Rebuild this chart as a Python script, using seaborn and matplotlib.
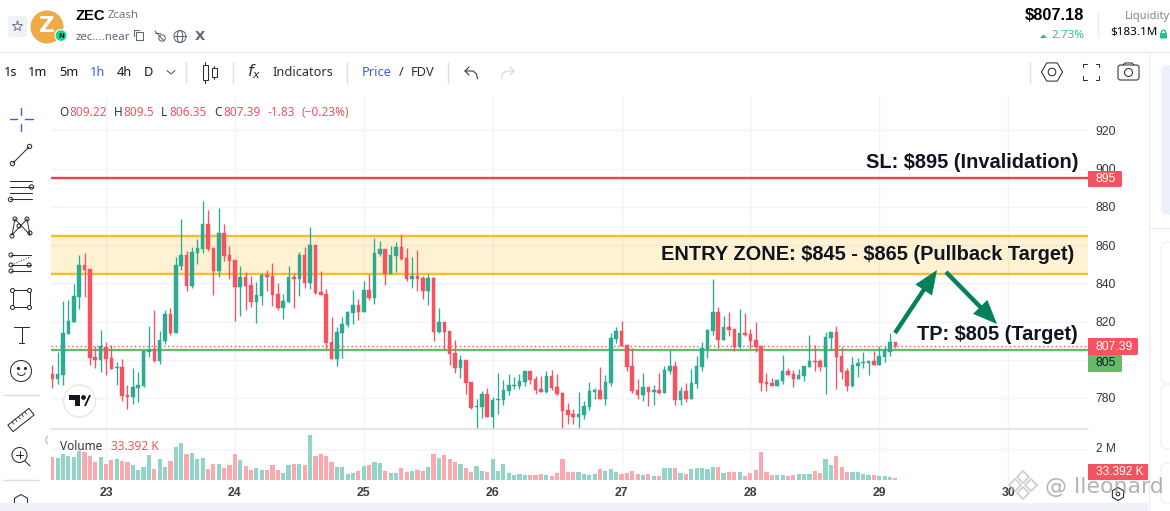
import numpy as np
import pandas as pd
import matplotlib
matplotlib.use("Agg")
import matplotlib.pyplot as plt
from matplotlib.patches import FancyBboxPatch, Circle, Rectangle, RegularPolygon, FancyArrow, Polygon, Ellipse
import seaborn as sns

opens = [792.5,789.9,792.0,813.5,819.7,832.8,849.6,847.5,801.4,799.8,
806.7,800.9,795.7,796.2,781.5,780.5,785.2,786.3,804.0,805.6,
799.3,809.8,823.9,814.0,849.0,854.8,838.6,855.8,857.9,871.0,
858.5,846.4,866.3,854.8,852.2,838.0,843.3,839.1,830.2,833.3,
844.3,843.8,834.4,827.1,830.2,843.3,842.2,854.8,840.1,860.0,
835.4,834.4,809.3,800.4,814.0,818.2,824.5,828.7,825.0,836.5,
832.3,855.4,858.0,844.9,854.3,859.0,853.3,842.3,843.8,842.8,
836.0,842.8,814.5,819.8,815.1,803.6,795.7,799.9,788.4,775.3,
775.3,782.1,770.1,778.9,778.9,783.7,786.3,786.3,788.4,794.1,
790.0,784.7,783.1,791.5,785.8,782.6,773.7,771.6,770.1,771.1,
775.3,783.1,784.2,779.5,787.9,810.9,815.1,807.7,796.7,784.2,
781.6,785.8,783.1,784.2,782.6,794.1,796.7,778.9,783.7,779.5,
787.3,796.2,805.6,815.1,825.0,810.3,817.1,816.1,806.7,814.0,
813.5,810.3,807.2,788.4,787.8,786.3,788.9,794.1,792.6,789.9,
791.5,796.2,799.4,799.4,796.2,811.4,814.5,802.0,794.1,786.3,
796.7,798.3,798.3,799.4,797.3,801.5,804.1,809.22]

highs = [797.2,804.0,830.7,831.2,839.6,854.8,855.8,847.5,807.2,815.6,
809.3,807.7,798.8,800.4,786.8,795.7,793.6,805.1,817.6,826.0,
815.0,826.0,827.1,853.7,873.6,856.9,859.0,863.2,883.0,878.3,
859.0,879.4,871.0,859.5,852.2,849.0,845.9,843.8,840.7,845.4,
846.9,850.6,840.1,834.4,849.0,845.4,856.4,859.0,869.4,860.0,
846.4,837.0,822.4,817.2,822.4,825.5,836.5,831.8,841.2,844.9,
863.7,862.1,858.0,859.5,861.6,865.8,858.5,853.8,857.4,843.8,
844.9,843.3,827.1,819.8,815.1,810.4,802.5,799.9,788.4,779.5,
783.7,785.2,780.5,793.1,789.4,792.6,791.0,792.6,794.1,794.1,
791.5,791.5,794.1,794.6,792.6,783.1,777.4,774.2,783.1,778.4,
788.4,785.2,796.2,792.0,814.0,817.2,820.3,808.3,806.2,789.9,
793.1,785.8,786.8,793.1,796.7,805.1,799.4,785.8,787.8,795.2,
802.0,809.3,816.1,842.3,827.6,822.9,825.0,816.1,826.6,824.5,
816.1,819.8,807.2,793.1,790.5,789.4,802.5,795.7,794.6,795.2,
796.7,813.0,807.7,800.4,814.5,814.5,817.7,806.7,795.7,801.5,
800.9,804.1,799.4,804.6,807.2,807.2,814.0,809.5]

lows = [785.2,787.3,786.8,813.5,819.7,826.5,832.8,797.2,795.7,793.6,
792.0,795.1,786.8,778.4,774.2,776.8,777.9,785.7,801.4,798.8,
797.8,808.2,812.9,814.0,846.9,836.0,837.5,850.1,855.8,856.9,
833.9,843.3,851.7,842.2,820.3,822.9,826.0,827.6,819.2,828.6,
836.0,828.1,826.0,821.3,830.2,827.1,833.3,837.5,837.0,834.4,
833.9,805.6,800.4,796.8,800.9,817.2,818.7,820.8,825.0,831.3,
829.2,854.3,839.1,844.9,845.9,852.2,841.2,837.6,836.0,831.8,
828.7,809.8,814.0,805.1,797.3,793.1,790.5,782.1,774.2,763.6,
769.5,770.1,763.6,771.6,776.3,781.6,784.7,784.7,786.3,787.3,
782.1,783.1,782.6,784.2,781.6,763.6,766.4,766.4,763.6,769.0,
773.7,779.5,779.5,776.3,786.3,808.8,807.2,794.1,782.6,779.5,
778.4,775.8,776.3,782.1,782.6,792.6,776.3,776.3,777.9,779.5,
785.2,794.1,800.9,813.0,806.2,810.3,812.4,804.6,806.2,812.4,
806.2,804.1,783.7,783.7,786.3,786.3,787.3,792.0,785.8,789.9,
788.9,796.2,794.1,794.1,782.1,805.1,784.7,789.9,783.7,785.8,
791.0,795.7,792.0,797.3,797.3,798.8,802.0,806.35]

closes = [789.9,792.5,814.0,820.3,833.3,849.6,846.9,800.9,799.8,807.0,
800.4,795.1,796.2,781.0,780.5,785.7,786.8,804.6,805.1,799.3,
810.3,823.9,814.0,849.6,854.8,838.6,856.4,858.5,871.0,857.9,
846.4,866.3,854.3,851.7,838.0,843.3,838.6,830.2,833.9,844.3,
843.3,833.9,827.1,830.7,843.3,842.2,854.8,840.1,860.0,834.9,
833.9,808.8,800.4,814.5,818.7,825.0,828.7,825.0,836.5,832.3,
855.9,858.0,844.9,854.8,859.0,852.7,842.3,843.8,842.3,836.0,
842.8,814.5,819.8,814.5,803.0,795.7,799.9,787.9,774.8,775.8,
782.1,770.1,778.9,779.5,784.2,786.8,786.8,788.9,794.1,789.4,
784.2,783.1,791.5,785.2,782.1,773.2,771.1,770.1,771.6,775.8,
783.7,784.2,779.5,788.4,811.4,815.1,807.2,796.2,783.7,781.6,
785.8,783.1,784.2,782.6,794.6,796.7,778.9,783.7,779.5,787.8,
796.7,806.2,815.6,825.0,810.3,817.1,815.6,806.7,814.0,813.0,
809.8,806.7,787.8,787.3,786.3,789.4,794.1,792.0,789.9,792.0,
796.7,799.4,798.8,796.2,811.9,814.5,801.5,793.6,786.3,797.3,
798.3,798.8,799.4,797.3,802.0,805.1,809.3,807.39]

volumes_k = [1484,1419,1677,1548,1484,1871,1806,1548,1161,1484,
1032,1290,1355,1226,1161,968,645,839,1613,710,
1355,839,1226,2129,2387,1677,1742,1355,1419,710,
1032,1032,774,968,1677,1290,903,645,774,645,
645,968,645,452,968,1032,1032,968,2903,1548,
1677,1548,1161,839,839,387,452,581,903,968,
1161,1097,581,452,452,774,516,581,645,581,
839,1677,1419,1613,1355,1161,1032,774,516,903,
581,516,1355,581,1032,452,323,387,323,323,
323,387,323,258,452,1355,516,516,516,387,
323,387,710,581,710,516,387,452,581,387,
323,387,258,258,774,774,774,452,387,710,
774,774,710,839,839,452,516,516,516,258,
452,645,1806,516,323,323,323,258,323,387,
387,387,581,452,1355,968,1548,839,516,516,
516,387,323,323,258,258,194,110]

price_ticks = [780, 800, 820, 840, 860, 880, 900, 920]
price_tick_labels = ["780", "", "820", "840", "860", "880", "900", "920"]
day_labels = ["23", "24", "25", "26", "27", "28", "29", "30"]
day_start_index = [10, 34, 58, 82, 106, 130, 154, 178]
sl_level, entry_low, entry_high, tp_level, last_close = 895, 845, 865, 805, 807.39

GREEN, RED = "#2bab92", "#f7525f"
VGREEN, VRED = "#92d5c8", "#fca8af"
TEXT = "#131722"
GREY = "#5d6676"
ICON = "#2a2e39"

sns.set_theme(style="white")
plt.rcParams["font.family"] = ["Noto Sans", "DejaVu Sans"]

W, H = 1170, 511
fig = plt.figure(figsize=(W / 100, H / 100), dpi=100, facecolor="white")

def box(x0, y0, x1, y1):
    return [x0 / W, 1 - y1 / H, (x1 - x0) / W, (y1 - y0) / H]

df = pd.DataFrame({"idx": np.arange(len(opens)), "open": opens, "high": highs,
                   "low": lows, "close": closes, "volume": volumes_k})
df["dir"] = np.where(df["close"] >= df["open"], "up", "down")
xlim = (-0.24, 192.87)

# ---------- price pane
ax = fig.add_axes(box(51, 95, 1088, 430), facecolor="none")
ax.set_xlim(*xlim)
ax.set_ylim(763.25, 938.55)
for p in price_ticks:
    ax.axhline(p, color="#f0f3fa", lw=1, zorder=0)
for d in day_start_index:
    ax.axvline(d, color="#f0f3fa", lw=1, zorder=0)
ax.axhspan(entry_low, entry_high, color="#fbbf24", alpha=0.2, lw=0, zorder=1)
colors = df["dir"].map({"up": GREEN, "down": RED})
ax.vlines(df["idx"], df["low"], df["high"], colors=colors, lw=0.95, zorder=3)
ax.bar(df["idx"], (df["close"] - df["open"]).abs(), bottom=df[["open", "close"]].min(axis=1),
       width=0.66, color=colors, edgecolor=colors, linewidth=0.3, zorder=4)
ax.axhline(sl_level, color="#f0414f", lw=1.7, zorder=2)
ax.axhline(entry_high, color="#fbbc2c", lw=1.7, zorder=2)
ax.axhline(entry_low, color="#fbbc2c", lw=1.7, zorder=2)
ax.axhline(tp_level, color="#66bb6a", lw=1.7, zorder=2)
ax.axhline(last_close, color=RED, lw=1, ls=(0, (1, 2)), zorder=2)
ax.yaxis.tick_right()
ax.set_yticks(price_ticks)
ax.set_yticklabels(price_tick_labels, fontsize=8.7, color="#33363f", family="Liberation Sans")
ax.set_xticks([])
ax.tick_params(axis="y", length=0, pad=5.5)
sns.despine(ax=ax, left=True, bottom=True, right=True, top=True)

# ---------- volume pane
axv = fig.add_axes(box(51, 431, 1088, 482), facecolor="none")
for d in day_start_index:
    axv.axvline(d, color="#f0f3fa", lw=1, zorder=0)
axv.axhline(2000, color="#f0f3fa", lw=1, zorder=0)
sns.barplot(data=df, x="idx", y="volume", hue="dir", palette={"up": VGREEN, "down": VRED},
            native_scale=True, dodge=False, saturation=1, legend=False, ax=axv, zorder=2,
            linewidth=0, edgecolor="none")
for bar in axv.patches:
    center = bar.get_x() + bar.get_width() / 2
    bar.set_width(0.78)
    bar.set_x(center - 0.39)
axv.set_xlim(*xlim)
axv.set_ylim(-129, 3160)
axv.set_xlabel("")
axv.set_ylabel("")
axv.set_yticks([])
axv.set_xticks(day_start_index)
axv.set_xticklabels(day_labels, fontsize=8.8, fontweight="bold", color="#3a3d46", family="Liberation Sans")
axv.tick_params(axis="x", length=0, pad=3.5)
sns.despine(ax=axv, left=True, bottom=True, right=True, top=True)

# ---------- interface drawn in pixel coordinates on top
ui = fig.add_axes([0, 0, 1, 1], facecolor="none", zorder=6)
ui.set_xlim(0, W)
ui.set_ylim(H, 0)
ui.axis("off")

def t(x, y, s, size=8.6, color=TEXT, ha="left", weight="normal", family=None, alpha=None):
    return ui.text(x, y, s, fontsize=size, color=color, ha=ha, va="center", fontweight=weight,
                   family=family or ["Noto Sans", "DejaVu Sans"], alpha=alpha)

def line(xs, ys, color=ICON, lw=0.75, **kw):
    ui.plot(xs, ys, color=color, lw=lw, solid_capstyle="round", **kw)

def rect(x0, y0, x1, y1, color, **kw):
    ui.add_patch(Rectangle((x0, y0), x1 - x0, y1 - y0, facecolor=color, edgecolor="none", **kw))

def rbox(x0, y0, x1, y1, fc="none", ec="none", r=3, lw=0.75):
    ui.add_patch(FancyBboxPatch((x0 + r, y0 + r), x1 - x0 - 2 * r, y1 - y0 - 2 * r,
                                boxstyle=f"round,pad={r}", facecolor=fc, edgecolor=ec, lw=lw))

def ring(x, y, r, ec=ICON, lw=0.75, fc="none"):
    ui.add_patch(Circle((x, y), r, facecolor=fc, edgecolor=ec, lw=lw))

# structure lines
line([0, W], [52, 52], color="#e9ecf1", lw=1)
line([51, 1088], [429.5, 429.5], color="#dfe1e6", lw=1.2)
line([1148.5, 1148.5], [52, H], color="#eceef2", lw=1)
line([1149, W], [228, 228], color="#eceef2", lw=1)
rect(0, 503, 1148, H, "#eef1f5")
rbox(1161, 65, W + 20, 215, fc="#edf1fd", r=7)
rbox(1161, 242, W + 20, 383, ec="#eceef2", r=7)
rbox(1161, 385, W + 20, 449, ec="#eceef2", r=7)
rbox(1161, 463, W + 20, 503, ec="#eceef2", r=7)

# header
rbox(8, 16, 27, 37, fc="#eff2f5", r=3)
ui.plot([17], [26.5], marker="*", ms=8, mfc="none", mec="#6a7385", mew=0.7)
ui.add_patch(Circle((47, 27), 16.5, facecolor="#edaa46", edgecolor="none"))
t(46.5, 26.5, "Z", size=15.5, color="white", ha="center", weight="bold", family="DejaVu Sans")
ui.add_patch(Circle((61, 35.5), 6, facecolor="#16d6a0", edgecolor="white", lw=0.8))
t(61, 35.5, "N", size=5, color="#0b2b22", ha="center", weight="bold", family="DejaVu Sans")
t(75, 15.5, "ZEC", size=10.6, color="#000000", weight="bold", family="Liberation Sans")
t(107.5, 15.5, "Zcash", size=8.2, color="#6d7687")
t(75, 38, "zec....near", size=8.2, color=GREY)
ui.add_patch(Rectangle((136, 32), 7, 8, facecolor="none", edgecolor=GREY, lw=0.75))
line([134, 134, 139], [36, 30, 30], color=GREY)
ring(162, 38, 3.2, ec=GREY)
line([155, 164], [31, 41], color=GREY)
line([155, 160], [33, 33], color=GREY)
ring(180, 36.5, 6, ec=GREY)
line([174, 186], [36.5, 36.5], color=GREY)
ui.add_patch(Ellipse((180, 36.5), 5.5, 12, facecolor="none", edgecolor=GREY, lw=0.75))
t(200, 36.5, "X", size=9.5, color=GREY, ha="center", weight="bold", family="DejaVu Sans")
t(1084.5, 16, "$807.18", size=11.8, color="#000000", ha="right", weight="bold", family="Liberation Sans")
ui.add_patch(Polygon([[1040, 38], [1047, 38], [1043.5, 34.5]], facecolor="#1bbf8f", edgecolor="none"))
t(1085, 35.5, "2.73%", size=8.4, color="#28c39a", ha="right")
line([1097.5, 1097.5], [13, 37], color="#e9ecf1", lw=1)
t(1170, 16, "Liquidity", size=8, color="#7c8698", ha="right")
t(1110, 33, "$183.1M", size=8.4, color="#000000")
rbox(1160, 33, 1167, 38.5, fc="#1fbf8e", r=1)
ring(1163.5, 32.5, 2.2, ec="#1fbf8e", lw=1)

# toolbar
for x, s, c in [(4, "1s", TEXT), (28, "1m", TEXT), (59, "5m", TEXT), (90, "1h", "#3d5cf0"),
                (117, "4h", TEXT), (144, "D", TEXT)]:
    t(x, 72, s, size=9.2, color=c)
line([167, 171, 175], [70.5, 74, 70.5], color="#555")
for x in [186, 233, 347, 448, 1030]:
    line([x, x], [62, 83], color="#dcdfe4", lw=1)
line([205, 205], [62, 83])
line([214, 214], [66, 79])
ui.add_patch(Rectangle((202.5, 65), 5, 15, facecolor="white", edgecolor=ICON, lw=0.75, zorder=4))
ui.add_patch(Rectangle((211.5, 68.5), 5, 9, facecolor="white", edgecolor=ICON, lw=0.75, zorder=4))
t(254, 72, r"$f_x$", size=11.5, color=ICON, ha="center")
t(272, 72, "Indicators", size=9.2, color=ICON)
t(362, 72, "Price", size=9.2, color="#3d5cf0")
t(399, 72, "/", size=9.2, color=ICON)
t(411, 72, "FDV", size=9.2, color=ICON)
line([465, 473, 476.5, 477.5], [71, 71, 74, 79])
line([469, 465, 469], [67, 71, 75])
line([514, 506, 502.5, 501.5], [71, 71, 74, 79], color="#d0d3d9")
line([510, 514, 510], [67, 71, 75], color="#d0d3d9")
ui.add_patch(RegularPolygon((1052, 72), 6, radius=10.5, orientation=np.pi / 2, facecolor="none", edgecolor=ICON, lw=0.75))
ring(1052, 72, 3.8)
for sx, sy in [(-1, -1), (1, -1), (-1, 1), (1, 1)]:
    cx, cy = 1091 + sx * 8, 72 + sy * 8
    line([cx - sx * 3.5, cx, cx], [cy, cy, cy - sy * 3.5])
rbox(1118, 65, 1139, 80, ec=ICON, r=2.5)
line([1123, 1125, 1132, 1134], [65, 63, 63, 65])
ring(1128.5, 72.5, 4)

# OHLC strip
for x, s, c in [(59, "O", "#33363f"), (69, "809.22", RED), (114, "H", "#33363f"), (123, "809.5", RED),
                (161, "L", "#33363f"), (169, "806.35", RED), (214, "C", "#33363f"), (223, "807.39", RED),
                (268, "-1.83", RED), (302, "(−0.23%)", RED)]:
    t(x, 112, s, size=8.5, color=c)

# drawing tools column
line([21, 21], [108, 115], color="#3d5cf0", lw=1); line([21, 21], [124, 131], color="#3d5cf0", lw=1)
line([10, 17], [119.5, 119.5], color="#3d5cf0", lw=1); line([25, 33], [119.5, 119.5], color="#3d5cf0", lw=1)
line([13, 29], [163, 147]); ring(12.5, 163.5, 2.2, fc="white"); ring(29.5, 146.5, 2.2, fc="white")
for y in [181, 187, 193, 199]:
    line([10, 32], [y, y])
ring(31.5, 187, 2.2, fc="white"); ring(10.5, 199.5, 2.2, fc="white")
line([12, 15, 30, 27, 12], [235, 219, 235, 219, 235], lw=0.7)
for x, y in [(12, 236), (15, 219), (19, 226), (27, 219), (30, 233)]:
    ring(x, y, 2, fc="white")
for y in [255, 265, 271]:
    line([11, 31], [y, y])
line([14, 30], [264, 257], lw=0.7, ls=":")
for x, y in [(11, 255), (11, 265), (29, 265), (11, 271)]:
    ring(x, y, 2, fc="white")
ui.add_patch(Rectangle((12.5, 290.5), 17, 17, facecolor="none", edgecolor=ICON, lw=0.75))
for x, y in [(12.5, 290.5), (29.5, 290.5), (12.5, 307.5), (29.5, 307.5)]:
    ring(x, y, 2, fc="white")
line([14, 29], [327, 327]); line([21.5, 21.5], [327, 343]); line([19, 24], [343, 343])
ring(21, 371, 10.5)
ui.plot([18, 24.5], [368.5, 368.5], ls="none", marker="o", ms=1.3, color=ICON)
ui.plot(21.3 + 4 * np.cos(np.linspace(0.3, 2.85, 12)), 372 + 3.5 * np.sin(np.linspace(0.3, 2.85, 12)), color=ICON, lw=0.7)
line([3, 39], [395, 395], color="#dcdfe4", lw=1)
ruler_c = np.array([21.0, 420.0]); ruler_u = np.array([0.78, -0.62]); ruler_v = np.array([0.62, 0.78])
ui.add_patch(Polygon([ruler_c + a * 13.5 * ruler_u + b * 4.2 * ruler_v for a, b in [(-1, -1), (1, -1), (1, 1), (-1, 1)]],
                     facecolor="none", edgecolor=ICON, lw=0.75))
for a in [-0.6, -0.3, 0, 0.3, 0.6]:
    p0 = ruler_c + a * 13.5 * ruler_u - 4.2 * ruler_v
    p1 = p0 + 3 * ruler_v
    line([p0[0], p1[0]], [p0[1], p1[1]], lw=0.6)
ring(19.5, 455, 7.5); line([25, 30], [461, 466])
line([16, 23], [455, 455]); line([19.5, 19.5], [451.5, 458.5])
line([3, 39], [480, 480], color="#dcdfe4", lw=1)
ui.add_patch(RegularPolygon((21, 502), 6, radius=7.5, facecolor="none", edgecolor=ICON, lw=0.75))
rect(0, 503, 46, H, "#eef1f5", zorder=5)
line([47.5, 45.5, 47.5], [436, 440, 444], color="#c5c8cf", lw=1)

# TradingView mark
ui.add_patch(Circle((79.5, 401), 16, facecolor="white", edgecolor="#e6e8ec", lw=1))
ui.add_patch(Polygon([[69, 395], [80, 395], [80, 406], [75, 406], [75, 400], [69, 400]], facecolor="#131722", edgecolor="none"))
ui.add_patch(Circle((83.5, 397.5), 2.4, facecolor="#131722", edgecolor="none"))
ui.add_patch(Polygon([[84, 406], [89, 395], [91, 395], [86, 406]], facecolor="#131722", edgecolor="none"))

# volume legend
t(60, 446.5, "Volume", size=8.5, color="#33363f")
t(111, 446.5, "33.392 K", size=8.5, color=RED)

# axis price tags
for x1, y0, y1, fc, s, tc in [(1122, 171, 187, RED, "895", "white"),
                              (1122, 355, 372, "#66bb6a", "805", "#131722"),
                              (1138, 338, 355, RED, "807.39", "white")]:
    rbox(1088, y0, x1, y1, fc=fc, r=1.5)
    ui.add_patch(Rectangle((1088, y0), 4, y1 - y0, facecolor=fc, edgecolor="none"))
    t(1096, (y0 + y1) / 2, s, size=8.7, color=tc, family="Liberation Sans")
t(1096, 449, "2 M", size=8.6, color="#33363f", family="Liberation Sans")
rect(1088, 464, 1148, 480, RED)
t(1096, 472, "33.392 K", size=8.6, color="white", family="Liberation Sans")

# trade annotations
anno = {"size": 14.4, "color": "#0f1420", "weight": "bold", "family": "Liberation Sans", "ha": "right"}
t(1078, 162, "SL: $895 (Invalidation)", **anno)
t(1074, 255, r"ENTRY ZONE: \$845 - \$865 (Pullback Target)", **anno)
t(1078, 334, "TP: $805 (Target)", **anno)
for x0, y0, x1, y1 in [(895, 333, 937, 270), (946, 272, 997, 324)]:
    ui.add_patch(FancyArrow(x0, y0, x1 - x0, y1 - y0, width=4.4, head_width=20, head_length=24,
                            length_includes_head=True, facecolor="#04805a", edgecolor="none"))

# watermark and corner icons
for dx, dy in [(0, -9), (-8, -1), (8, -1), (0, 7)]:
    ui.add_patch(RegularPolygon((1023 + dx, 486 + dy), 4, radius=6, facecolor="none", edgecolor="#b8b8b8", lw=1.2, alpha=0.7))
t(1045, 487, "@ lleonard", size=15.8, color="#9a9a9a", alpha=0.75, family="DejaVu Sans")
ui.add_patch(RegularPolygon((1118, 494), 6, radius=6.5, facecolor="none", edgecolor=ICON, lw=0.8))
ring(1118, 494, 1.8)

assert len(opens) == len(highs) == len(lows) == len(closes) == len(volumes_k)
fig.savefig("out.png", dpi=100)
